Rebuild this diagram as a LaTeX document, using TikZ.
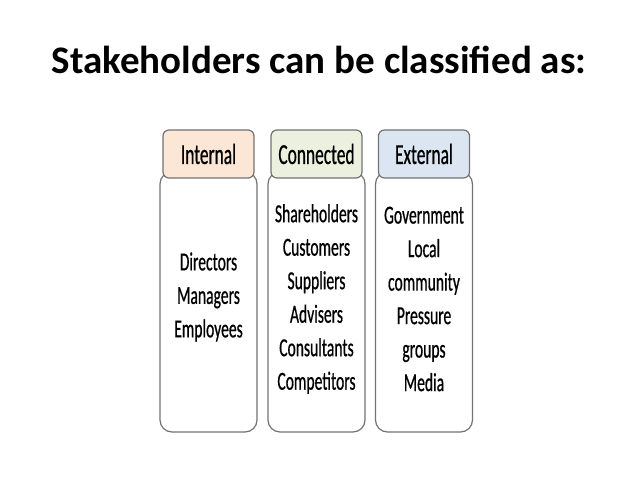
\documentclass[tikz,border=0pt]{standalone}
\usepackage{fontspec}
\setmainfont{Carlito}
\newfontfamily\cond[FakeStretch=0.6,FakeBold=0.6]{Carlito}
\definecolor{cint}{HTML}{FCE6D6}
\definecolor{ccon}{HTML}{EBF1DE}
\definecolor{cext}{HTML}{DCE6F2}
\begin{document}
\begin{tikzpicture}[x=1pt,y=-1pt,
  body/.style={draw=black!55,line width=1.2pt,rounded corners=12pt,fill=white},
  head/.style={draw=black!55,line width=1.2pt,rounded corners=6pt},
  txt/.style={font=\cond\fontsize{26}{33.5}\selectfont,align=center,text=black},
  htxt/.style={font=\cond\fontsize{29}{33.5}\selectfont,text=black}]
\path[use as bounding box,fill=white] (0,0) rectangle (638,478);
\node[font=\bfseries\fontsize{39}{43}\selectfont] (title) at (319,60) {Stakeholders can be classified as:};
\foreach \n/\x/\c in {i/208.5/cint, c/316.5/ccon, e/424/cext}{
  \draw[body] (\x-48.5,172) rectangle (\x+48.5,432);
  \node[head,fill=\c,minimum width=91pt,minimum height=48pt] (h\n) at (\x,154) {};
}
\node[htxt] (ti) at (hi) {Internal};
\node[htxt] (tc) at (hc) {Connected};
\node[htxt] (te) at (he) {External};
\node[txt] (li) at (208.5,297) {Directors\\Managers\\Employees};
\node[txt] (lc) at (316.5,299) {Shareholders\\Customers\\Suppliers\\Advisers\\Consultants\\Competitors};
\node[txt] (le) at (424,299) {Government\\Local\\community\\Pressure\\groups\\Media};
\end{tikzpicture}
\end{document}
